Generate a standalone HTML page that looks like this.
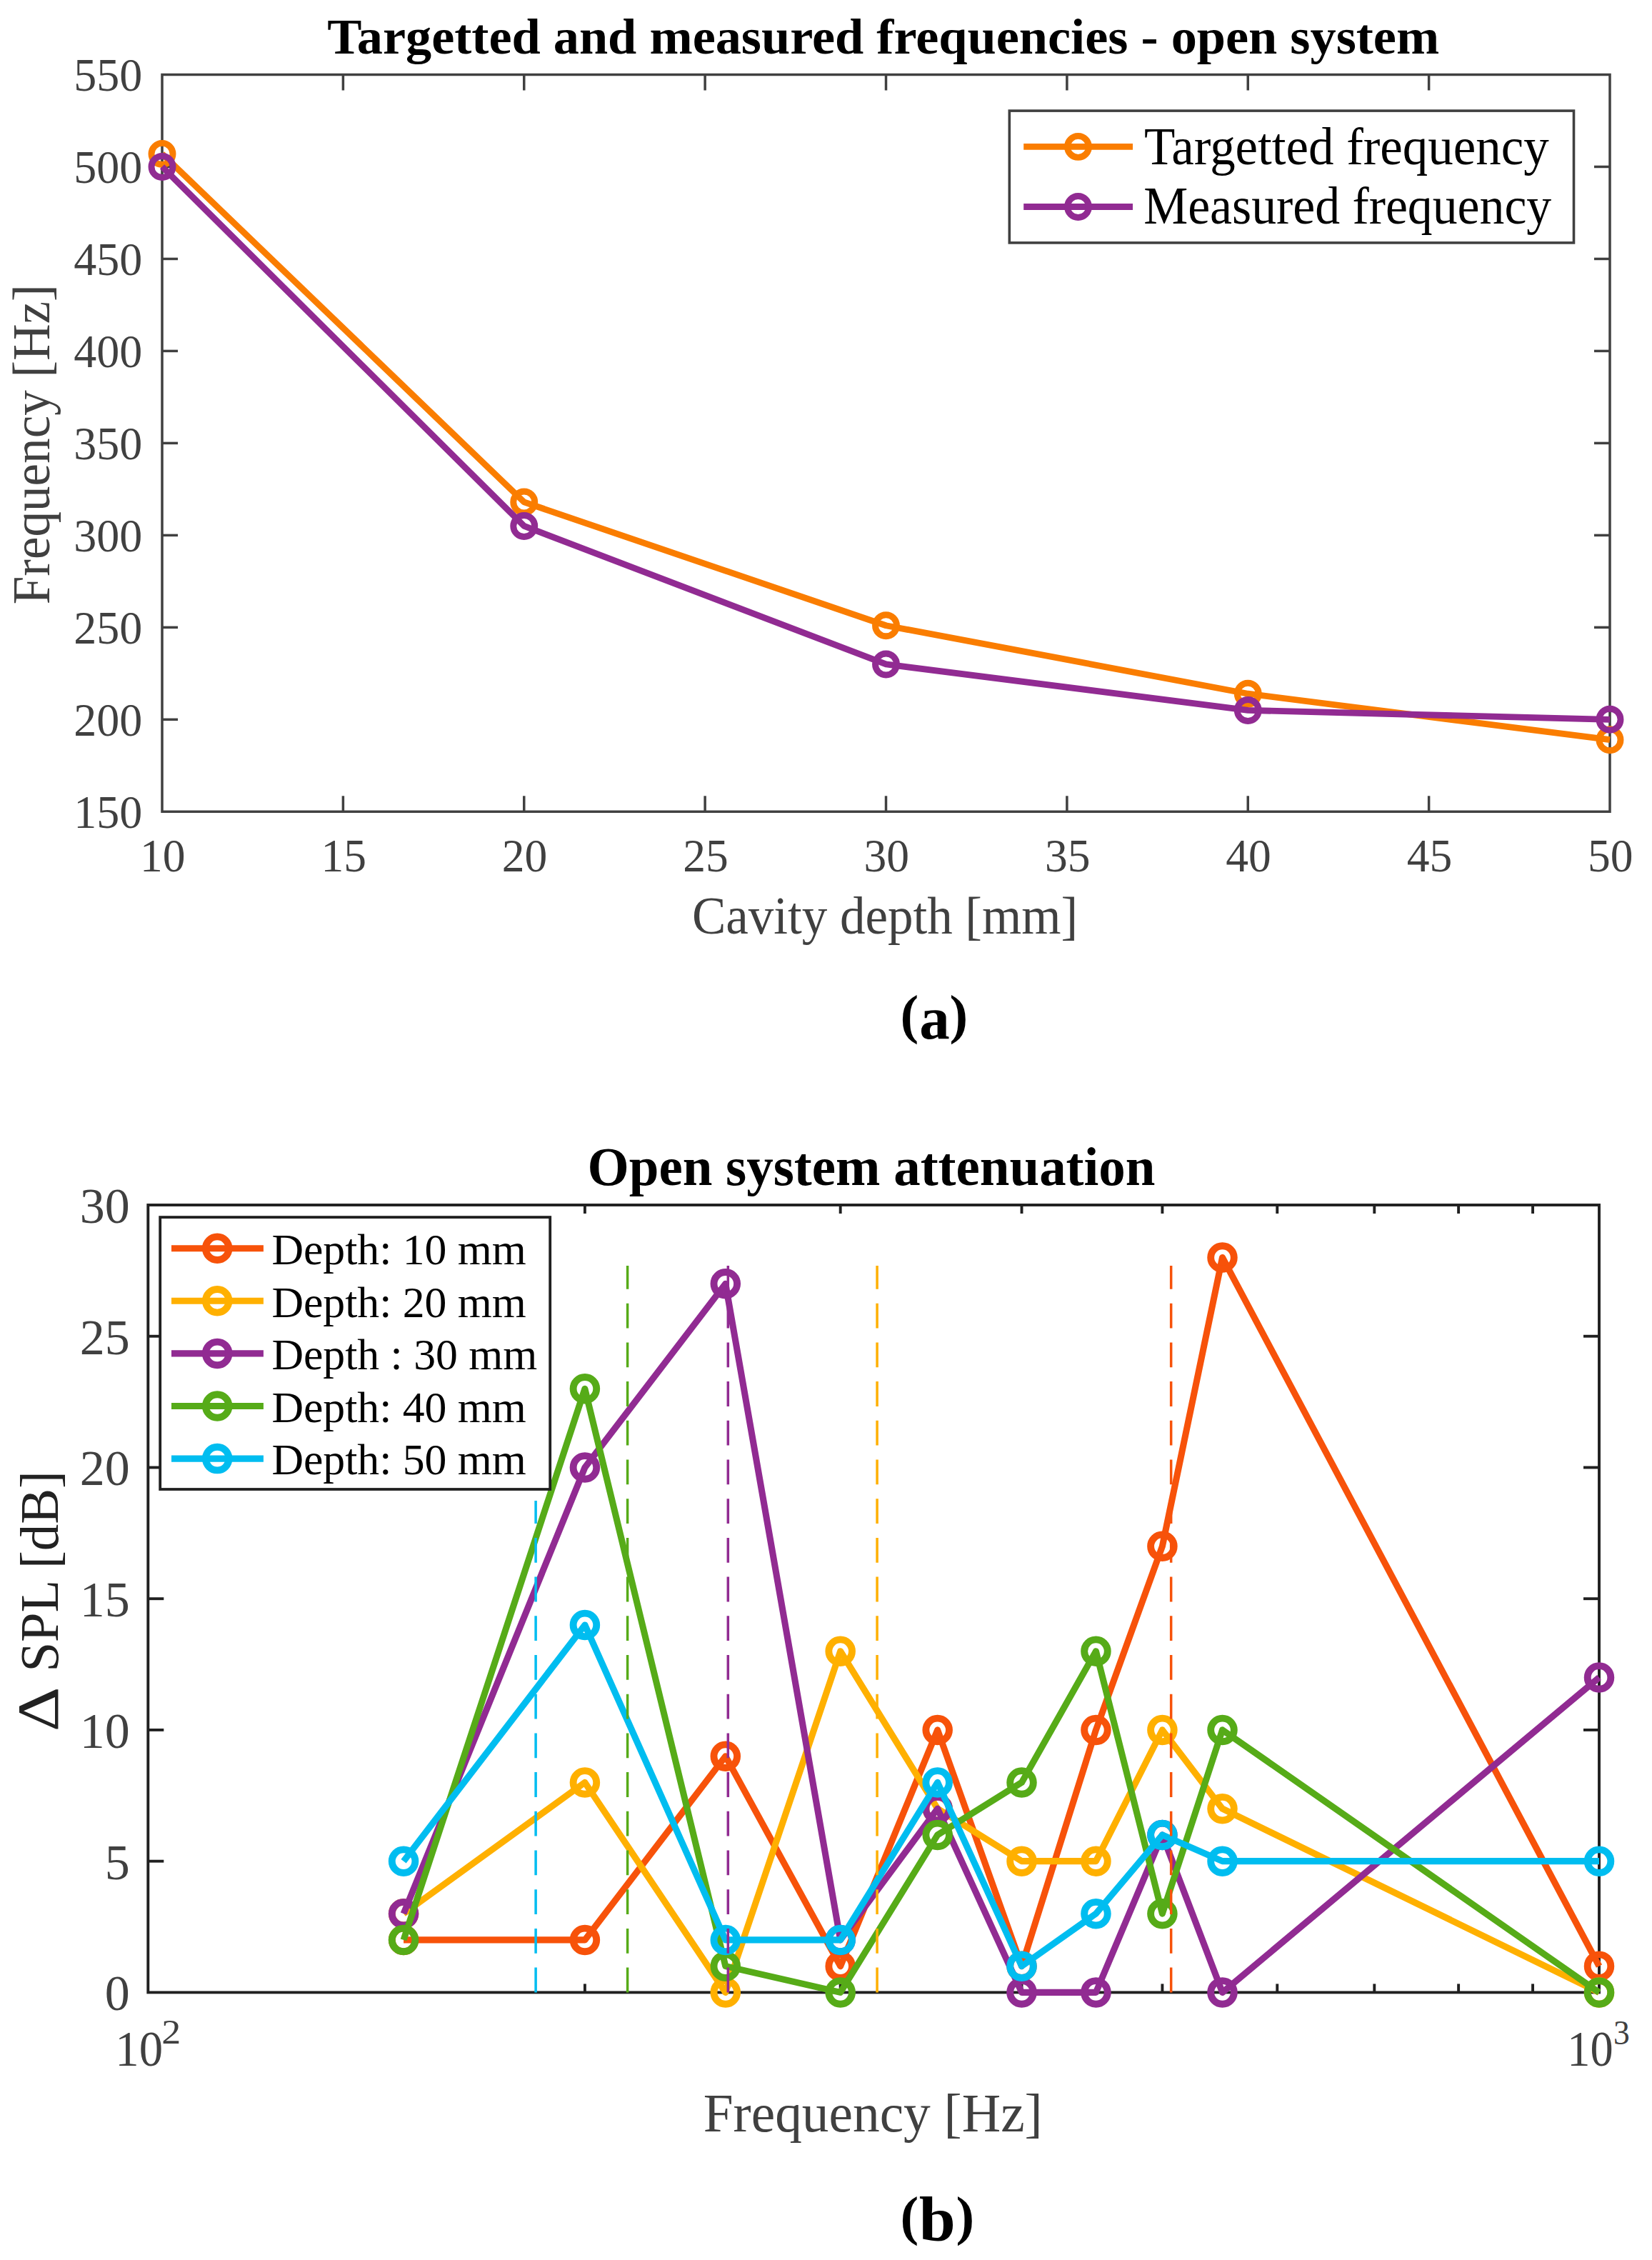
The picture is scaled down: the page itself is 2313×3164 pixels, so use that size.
<!DOCTYPE html>
<html lang="en">
<head>
<meta charset="utf-8">
<title>Targetted and measured frequencies - open system</title>
<style>
html,body{margin:0;padding:0;background:#fff;}
body{width:2313px;height:3164px;overflow:hidden;}
svg{display:block;}
svg text{font-family:"Liberation Serif", "DejaVu Serif", serif;white-space:pre;}
</style>
</head>
<body>
<svg width="2313" height="3164" viewBox="0 0 2313 3164">
<rect x="0" y="0" width="2313" height="3164" fill="#ffffff"/>
<g id="chart-a">
<text x="227.8" y="1220" font-size="66.5" fill="#404040" text-anchor="middle" font-weight="normal" textLength="63.5" lengthAdjust="spacingAndGlyphs">10</text>
<line x1="480.38" y1="1136.3" x2="480.38" y2="1114.3" stroke="#404040" stroke-width="3.5"/>
<line x1="480.38" y1="104.5" x2="480.38" y2="126.5" stroke="#404040" stroke-width="3.5"/>
<text x="481.18" y="1220" font-size="66.5" fill="#404040" text-anchor="middle" font-weight="normal" textLength="63.5" lengthAdjust="spacingAndGlyphs">15</text>
<line x1="733.75" y1="1136.3" x2="733.75" y2="1114.3" stroke="#404040" stroke-width="3.5"/>
<line x1="733.75" y1="104.5" x2="733.75" y2="126.5" stroke="#404040" stroke-width="3.5"/>
<text x="734.55" y="1220" font-size="66.5" fill="#404040" text-anchor="middle" font-weight="normal" textLength="63.5" lengthAdjust="spacingAndGlyphs">20</text>
<line x1="987.12" y1="1136.3" x2="987.12" y2="1114.3" stroke="#404040" stroke-width="3.5"/>
<line x1="987.12" y1="104.5" x2="987.12" y2="126.5" stroke="#404040" stroke-width="3.5"/>
<text x="987.92" y="1220" font-size="66.5" fill="#404040" text-anchor="middle" font-weight="normal" textLength="63.5" lengthAdjust="spacingAndGlyphs">25</text>
<line x1="1240.5" y1="1136.3" x2="1240.5" y2="1114.3" stroke="#404040" stroke-width="3.5"/>
<line x1="1240.5" y1="104.5" x2="1240.5" y2="126.5" stroke="#404040" stroke-width="3.5"/>
<text x="1241.3" y="1220" font-size="66.5" fill="#404040" text-anchor="middle" font-weight="normal" textLength="63.5" lengthAdjust="spacingAndGlyphs">30</text>
<line x1="1493.88" y1="1136.3" x2="1493.88" y2="1114.3" stroke="#404040" stroke-width="3.5"/>
<line x1="1493.88" y1="104.5" x2="1493.88" y2="126.5" stroke="#404040" stroke-width="3.5"/>
<text x="1494.67" y="1220" font-size="66.5" fill="#404040" text-anchor="middle" font-weight="normal" textLength="63.5" lengthAdjust="spacingAndGlyphs">35</text>
<line x1="1747.25" y1="1136.3" x2="1747.25" y2="1114.3" stroke="#404040" stroke-width="3.5"/>
<line x1="1747.25" y1="104.5" x2="1747.25" y2="126.5" stroke="#404040" stroke-width="3.5"/>
<text x="1748.05" y="1220" font-size="66.5" fill="#404040" text-anchor="middle" font-weight="normal" textLength="63.5" lengthAdjust="spacingAndGlyphs">40</text>
<line x1="2000.62" y1="1136.3" x2="2000.62" y2="1114.3" stroke="#404040" stroke-width="3.5"/>
<line x1="2000.62" y1="104.5" x2="2000.62" y2="126.5" stroke="#404040" stroke-width="3.5"/>
<text x="2001.42" y="1220" font-size="66.5" fill="#404040" text-anchor="middle" font-weight="normal" textLength="63.5" lengthAdjust="spacingAndGlyphs">45</text>
<text x="2254.8" y="1220" font-size="66.5" fill="#404040" text-anchor="middle" font-weight="normal" textLength="63.5" lengthAdjust="spacingAndGlyphs">50</text>
<text x="199.2" y="1158.9" font-size="66" fill="#404040" text-anchor="end" font-weight="normal" textLength="96" lengthAdjust="spacingAndGlyphs">150</text>
<line x1="227" y1="1007.32" x2="249" y2="1007.32" stroke="#404040" stroke-width="3.5"/>
<line x1="2254" y1="1007.32" x2="2232" y2="1007.32" stroke="#404040" stroke-width="3.5"/>
<text x="199.2" y="1029.92" font-size="66" fill="#404040" text-anchor="end" font-weight="normal" textLength="96" lengthAdjust="spacingAndGlyphs">200</text>
<line x1="227" y1="878.35" x2="249" y2="878.35" stroke="#404040" stroke-width="3.5"/>
<line x1="2254" y1="878.35" x2="2232" y2="878.35" stroke="#404040" stroke-width="3.5"/>
<text x="199.2" y="900.95" font-size="66" fill="#404040" text-anchor="end" font-weight="normal" textLength="96" lengthAdjust="spacingAndGlyphs">250</text>
<line x1="227" y1="749.38" x2="249" y2="749.38" stroke="#404040" stroke-width="3.5"/>
<line x1="2254" y1="749.38" x2="2232" y2="749.38" stroke="#404040" stroke-width="3.5"/>
<text x="199.2" y="771.98" font-size="66" fill="#404040" text-anchor="end" font-weight="normal" textLength="96" lengthAdjust="spacingAndGlyphs">300</text>
<line x1="227" y1="620.4" x2="249" y2="620.4" stroke="#404040" stroke-width="3.5"/>
<line x1="2254" y1="620.4" x2="2232" y2="620.4" stroke="#404040" stroke-width="3.5"/>
<text x="199.2" y="643" font-size="66" fill="#404040" text-anchor="end" font-weight="normal" textLength="96" lengthAdjust="spacingAndGlyphs">350</text>
<line x1="227" y1="491.42" x2="249" y2="491.42" stroke="#404040" stroke-width="3.5"/>
<line x1="2254" y1="491.42" x2="2232" y2="491.42" stroke="#404040" stroke-width="3.5"/>
<text x="199.2" y="514.02" font-size="66" fill="#404040" text-anchor="end" font-weight="normal" textLength="96" lengthAdjust="spacingAndGlyphs">400</text>
<line x1="227" y1="362.45" x2="249" y2="362.45" stroke="#404040" stroke-width="3.5"/>
<line x1="2254" y1="362.45" x2="2232" y2="362.45" stroke="#404040" stroke-width="3.5"/>
<text x="199.2" y="385.05" font-size="66" fill="#404040" text-anchor="end" font-weight="normal" textLength="96" lengthAdjust="spacingAndGlyphs">450</text>
<line x1="227" y1="233.48" x2="249" y2="233.48" stroke="#404040" stroke-width="3.5"/>
<line x1="2254" y1="233.48" x2="2232" y2="233.48" stroke="#404040" stroke-width="3.5"/>
<text x="199.2" y="256.08" font-size="66" fill="#404040" text-anchor="end" font-weight="normal" textLength="96" lengthAdjust="spacingAndGlyphs">500</text>
<text x="199.2" y="127.1" font-size="66" fill="#404040" text-anchor="end" font-weight="normal" textLength="96" lengthAdjust="spacingAndGlyphs">550</text>
<rect x="227" y="104.5" width="2027" height="1031.8" fill="none" stroke="#404040" stroke-width="3.5"/>
<polyline points="227,215.42 733.75,702.94 1240.5,875.77 1747.25,971.21 2254,1035.7" fill="none" stroke="#FA7D00" stroke-width="8.8" stroke-linejoin="round"/>
<circle cx="227" cy="215.42" r="15.0" fill="none" stroke="#FA7D00" stroke-width="8.9"/>
<circle cx="733.75" cy="702.94" r="15.0" fill="none" stroke="#FA7D00" stroke-width="8.9"/>
<circle cx="1240.5" cy="875.77" r="15.0" fill="none" stroke="#FA7D00" stroke-width="8.9"/>
<circle cx="1747.25" cy="971.21" r="15.0" fill="none" stroke="#FA7D00" stroke-width="8.9"/>
<circle cx="2254" cy="1035.7" r="15.0" fill="none" stroke="#FA7D00" stroke-width="8.9"/>
<polyline points="227,233.48 733.75,736.48 1240.5,929.94 1747.25,994.43 2254,1007.32" fill="none" stroke="#912B92" stroke-width="8.8" stroke-linejoin="round"/>
<circle cx="227" cy="233.48" r="15.0" fill="none" stroke="#912B92" stroke-width="8.9"/>
<circle cx="733.75" cy="736.48" r="15.0" fill="none" stroke="#912B92" stroke-width="8.9"/>
<circle cx="1240.5" cy="929.94" r="15.0" fill="none" stroke="#912B92" stroke-width="8.9"/>
<circle cx="1747.25" cy="994.43" r="15.0" fill="none" stroke="#912B92" stroke-width="8.9"/>
<circle cx="2254" cy="1007.32" r="15.0" fill="none" stroke="#912B92" stroke-width="8.9"/>
<text x="1236.7" y="75.2" font-size="70.5" fill="#000" text-anchor="middle" font-weight="bold" textLength="1557" lengthAdjust="spacingAndGlyphs">Targetted and measured frequencies - open system</text>
<text x="1239" y="1306.9" font-size="73" fill="#404040" text-anchor="middle" font-weight="normal" textLength="540.2" lengthAdjust="spacingAndGlyphs">Cavity depth [mm]</text>
<text transform="translate(69.4 622.3) rotate(-90)" font-size="73" fill="#404040" text-anchor="middle" textLength="447.9" lengthAdjust="spacingAndGlyphs">Frequency [Hz]</text>
<rect x="1413.3" y="155.1" width="790.2" height="184.8" fill="#fff" stroke="#404040" stroke-width="3.6"/>
<line x1="1433.2" y1="205.4" x2="1586" y2="205.4" stroke="#FA7D00" stroke-width="8.8"/>
<circle cx="1509.5" cy="205.4" r="15.0" fill="none" stroke="#FA7D00" stroke-width="8.9"/>
<text x="1602" y="229.6" font-size="73.5" fill="#000" text-anchor="start" font-weight="normal" textLength="566.6" lengthAdjust="spacingAndGlyphs">Targetted frequency</text>
<line x1="1433.2" y1="289.5" x2="1586" y2="289.5" stroke="#912B92" stroke-width="8.8"/>
<circle cx="1509.5" cy="289.5" r="15.0" fill="none" stroke="#912B92" stroke-width="8.9"/>
<text x="1601.2" y="313.1" font-size="73.5" fill="#000" text-anchor="start" font-weight="normal" textLength="571.0" lengthAdjust="spacingAndGlyphs">Measured frequency</text>
<text font-weight="bold" fill="#000"><tspan x="1260.5" y="1446.4" font-size="77">(</tspan><tspan x="1287.2" y="1454.1" font-size="85">a</tspan><tspan x="1329.4" y="1446.4" font-size="77">)</tspan></text>
</g>
<g id="chart-b">
<text x="181.8" y="2814.3" font-size="70" fill="#404040" text-anchor="end" font-weight="normal">0</text>
<line x1="207.3" y1="2605.67" x2="229.3" y2="2605.67" stroke="#202020" stroke-width="3.9"/>
<line x1="2239" y1="2605.67" x2="2217" y2="2605.67" stroke="#202020" stroke-width="3.9"/>
<text x="181.8" y="2630.57" font-size="70" fill="#404040" text-anchor="end" font-weight="normal">5</text>
<line x1="207.3" y1="2421.93" x2="229.3" y2="2421.93" stroke="#202020" stroke-width="3.9"/>
<line x1="2239" y1="2421.93" x2="2217" y2="2421.93" stroke="#202020" stroke-width="3.9"/>
<text x="181.8" y="2446.83" font-size="70" fill="#404040" text-anchor="end" font-weight="normal">10</text>
<line x1="207.3" y1="2238.2" x2="229.3" y2="2238.2" stroke="#202020" stroke-width="3.9"/>
<line x1="2239" y1="2238.2" x2="2217" y2="2238.2" stroke="#202020" stroke-width="3.9"/>
<text x="181.8" y="2263.1" font-size="70" fill="#404040" text-anchor="end" font-weight="normal">15</text>
<line x1="207.3" y1="2054.47" x2="229.3" y2="2054.47" stroke="#202020" stroke-width="3.9"/>
<line x1="2239" y1="2054.47" x2="2217" y2="2054.47" stroke="#202020" stroke-width="3.9"/>
<text x="181.8" y="2079.37" font-size="70" fill="#404040" text-anchor="end" font-weight="normal">20</text>
<line x1="207.3" y1="1870.73" x2="229.3" y2="1870.73" stroke="#202020" stroke-width="3.9"/>
<line x1="2239" y1="1870.73" x2="2217" y2="1870.73" stroke="#202020" stroke-width="3.9"/>
<text x="181.8" y="1895.63" font-size="70" fill="#404040" text-anchor="end" font-weight="normal">25</text>
<text x="181.8" y="1711.9" font-size="70" fill="#404040" text-anchor="end" font-weight="normal">30</text>
<line x1="818.9" y1="2789.4" x2="818.9" y2="2777.4" stroke="#202020" stroke-width="3.9"/>
<line x1="818.9" y1="1687" x2="818.9" y2="1699" stroke="#202020" stroke-width="3.9"/>
<line x1="1176.67" y1="2789.4" x2="1176.67" y2="2777.4" stroke="#202020" stroke-width="3.9"/>
<line x1="1176.67" y1="1687" x2="1176.67" y2="1699" stroke="#202020" stroke-width="3.9"/>
<line x1="1430.51" y1="2789.4" x2="1430.51" y2="2777.4" stroke="#202020" stroke-width="3.9"/>
<line x1="1430.51" y1="1687" x2="1430.51" y2="1699" stroke="#202020" stroke-width="3.9"/>
<line x1="1627.4" y1="2789.4" x2="1627.4" y2="2777.4" stroke="#202020" stroke-width="3.9"/>
<line x1="1627.4" y1="1687" x2="1627.4" y2="1699" stroke="#202020" stroke-width="3.9"/>
<line x1="1788.27" y1="2789.4" x2="1788.27" y2="2777.4" stroke="#202020" stroke-width="3.9"/>
<line x1="1788.27" y1="1687" x2="1788.27" y2="1699" stroke="#202020" stroke-width="3.9"/>
<line x1="1924.29" y1="2789.4" x2="1924.29" y2="2777.4" stroke="#202020" stroke-width="3.9"/>
<line x1="1924.29" y1="1687" x2="1924.29" y2="1699" stroke="#202020" stroke-width="3.9"/>
<line x1="2042.11" y1="2789.4" x2="2042.11" y2="2777.4" stroke="#202020" stroke-width="3.9"/>
<line x1="2042.11" y1="1687" x2="2042.11" y2="1699" stroke="#202020" stroke-width="3.9"/>
<line x1="2146.03" y1="2789.4" x2="2146.03" y2="2777.4" stroke="#202020" stroke-width="3.9"/>
<line x1="2146.03" y1="1687" x2="2146.03" y2="1699" stroke="#202020" stroke-width="3.9"/>
<rect x="207.3" y="1687" width="2031.7" height="1102.4" fill="none" stroke="#202020" stroke-width="3.9"/>
<text x="161.3" y="2892" font-size="70" fill="#404040" textLength="66.8" lengthAdjust="spacingAndGlyphs">10</text>
<text x="226.2" y="2861" font-size="49" fill="#404040" textLength="27" lengthAdjust="spacingAndGlyphs">2</text>
<text x="2194.3" y="2892" font-size="70" fill="#404040" textLength="64.4" lengthAdjust="spacingAndGlyphs">10</text>
<text x="2259.1" y="2862" font-size="49" fill="#404040" textLength="22.8" lengthAdjust="spacingAndGlyphs">3</text>
<polyline points="565.06,2715.91 818.9,2715.91 1015.79,2458.68 1176.67,2752.65 1312.68,2421.93 1430.51,2752.65 1534.43,2421.93 1627.4,2164.71 1711.49,1760.49 2239,2752.65" fill="none" stroke="#F7520A" stroke-width="9.1" stroke-linejoin="round"/>
<circle cx="565.06" cy="2715.91" r="16.3" fill="none" stroke="#F7520A" stroke-width="9.9"/>
<circle cx="818.9" cy="2715.91" r="16.3" fill="none" stroke="#F7520A" stroke-width="9.9"/>
<circle cx="1015.79" cy="2458.68" r="16.3" fill="none" stroke="#F7520A" stroke-width="9.9"/>
<circle cx="1176.67" cy="2752.65" r="16.3" fill="none" stroke="#F7520A" stroke-width="9.9"/>
<circle cx="1312.68" cy="2421.93" r="16.3" fill="none" stroke="#F7520A" stroke-width="9.9"/>
<circle cx="1430.51" cy="2752.65" r="16.3" fill="none" stroke="#F7520A" stroke-width="9.9"/>
<circle cx="1534.43" cy="2421.93" r="16.3" fill="none" stroke="#F7520A" stroke-width="9.9"/>
<circle cx="1627.4" cy="2164.71" r="16.3" fill="none" stroke="#F7520A" stroke-width="9.9"/>
<circle cx="1711.49" cy="1760.49" r="16.3" fill="none" stroke="#F7520A" stroke-width="9.9"/>
<circle cx="2239" cy="2752.65" r="16.3" fill="none" stroke="#F7520A" stroke-width="9.9"/>
<polyline points="565.06,2679.16 818.9,2495.43 1015.79,2789.4 1176.67,2311.69 1312.68,2532.17 1430.51,2605.67 1534.43,2605.67 1627.4,2421.93 1711.49,2532.17 2239,2789.4" fill="none" stroke="#FFB000" stroke-width="9.1" stroke-linejoin="round"/>
<circle cx="565.06" cy="2679.16" r="16.3" fill="none" stroke="#FFB000" stroke-width="9.9"/>
<circle cx="818.9" cy="2495.43" r="16.3" fill="none" stroke="#FFB000" stroke-width="9.9"/>
<circle cx="1015.79" cy="2789.4" r="16.3" fill="none" stroke="#FFB000" stroke-width="9.9"/>
<circle cx="1176.67" cy="2311.69" r="16.3" fill="none" stroke="#FFB000" stroke-width="9.9"/>
<circle cx="1312.68" cy="2532.17" r="16.3" fill="none" stroke="#FFB000" stroke-width="9.9"/>
<circle cx="1430.51" cy="2605.67" r="16.3" fill="none" stroke="#FFB000" stroke-width="9.9"/>
<circle cx="1534.43" cy="2605.67" r="16.3" fill="none" stroke="#FFB000" stroke-width="9.9"/>
<circle cx="1627.4" cy="2421.93" r="16.3" fill="none" stroke="#FFB000" stroke-width="9.9"/>
<circle cx="1711.49" cy="2532.17" r="16.3" fill="none" stroke="#FFB000" stroke-width="9.9"/>
<circle cx="2239" cy="2789.4" r="16.3" fill="none" stroke="#FFB000" stroke-width="9.9"/>
<polyline points="565.06,2679.16 818.9,2054.47 1015.79,1797.24 1176.67,2715.91 1312.68,2532.17 1430.51,2789.4 1534.43,2789.4 1627.4,2568.92 1711.49,2789.4 2239,2348.44" fill="none" stroke="#912B92" stroke-width="9.1" stroke-linejoin="round"/>
<circle cx="565.06" cy="2679.16" r="16.3" fill="none" stroke="#912B92" stroke-width="9.9"/>
<circle cx="818.9" cy="2054.47" r="16.3" fill="none" stroke="#912B92" stroke-width="9.9"/>
<circle cx="1015.79" cy="1797.24" r="16.3" fill="none" stroke="#912B92" stroke-width="9.9"/>
<circle cx="1176.67" cy="2715.91" r="16.3" fill="none" stroke="#912B92" stroke-width="9.9"/>
<circle cx="1312.68" cy="2532.17" r="16.3" fill="none" stroke="#912B92" stroke-width="9.9"/>
<circle cx="1430.51" cy="2789.4" r="16.3" fill="none" stroke="#912B92" stroke-width="9.9"/>
<circle cx="1534.43" cy="2789.4" r="16.3" fill="none" stroke="#912B92" stroke-width="9.9"/>
<circle cx="1627.4" cy="2568.92" r="16.3" fill="none" stroke="#912B92" stroke-width="9.9"/>
<circle cx="1711.49" cy="2789.4" r="16.3" fill="none" stroke="#912B92" stroke-width="9.9"/>
<circle cx="2239" cy="2348.44" r="16.3" fill="none" stroke="#912B92" stroke-width="9.9"/>
<polyline points="565.06,2715.91 818.9,1944.23 1015.79,2752.65 1176.67,2789.4 1312.68,2568.92 1430.51,2495.43 1534.43,2311.69 1627.4,2679.16 1711.49,2421.93 2239,2789.4" fill="none" stroke="#56AB18" stroke-width="9.1" stroke-linejoin="round"/>
<circle cx="565.06" cy="2715.91" r="16.3" fill="none" stroke="#56AB18" stroke-width="9.9"/>
<circle cx="818.9" cy="1944.23" r="16.3" fill="none" stroke="#56AB18" stroke-width="9.9"/>
<circle cx="1015.79" cy="2752.65" r="16.3" fill="none" stroke="#56AB18" stroke-width="9.9"/>
<circle cx="1176.67" cy="2789.4" r="16.3" fill="none" stroke="#56AB18" stroke-width="9.9"/>
<circle cx="1312.68" cy="2568.92" r="16.3" fill="none" stroke="#56AB18" stroke-width="9.9"/>
<circle cx="1430.51" cy="2495.43" r="16.3" fill="none" stroke="#56AB18" stroke-width="9.9"/>
<circle cx="1534.43" cy="2311.69" r="16.3" fill="none" stroke="#56AB18" stroke-width="9.9"/>
<circle cx="1627.4" cy="2679.16" r="16.3" fill="none" stroke="#56AB18" stroke-width="9.9"/>
<circle cx="1711.49" cy="2421.93" r="16.3" fill="none" stroke="#56AB18" stroke-width="9.9"/>
<circle cx="2239" cy="2789.4" r="16.3" fill="none" stroke="#56AB18" stroke-width="9.9"/>
<polyline points="565.06,2605.67 818.9,2274.95 1015.79,2715.91 1176.67,2715.91 1312.68,2495.43 1430.51,2752.65 1534.43,2679.16 1627.4,2568.92 1711.49,2605.67 2239,2605.67" fill="none" stroke="#00BDF0" stroke-width="9.1" stroke-linejoin="round"/>
<circle cx="565.06" cy="2605.67" r="16.3" fill="none" stroke="#00BDF0" stroke-width="9.9"/>
<circle cx="818.9" cy="2274.95" r="16.3" fill="none" stroke="#00BDF0" stroke-width="9.9"/>
<circle cx="1015.79" cy="2715.91" r="16.3" fill="none" stroke="#00BDF0" stroke-width="9.9"/>
<circle cx="1176.67" cy="2715.91" r="16.3" fill="none" stroke="#00BDF0" stroke-width="9.9"/>
<circle cx="1312.68" cy="2495.43" r="16.3" fill="none" stroke="#00BDF0" stroke-width="9.9"/>
<circle cx="1430.51" cy="2752.65" r="16.3" fill="none" stroke="#00BDF0" stroke-width="9.9"/>
<circle cx="1534.43" cy="2679.16" r="16.3" fill="none" stroke="#00BDF0" stroke-width="9.9"/>
<circle cx="1627.4" cy="2568.92" r="16.3" fill="none" stroke="#00BDF0" stroke-width="9.9"/>
<circle cx="1711.49" cy="2605.67" r="16.3" fill="none" stroke="#00BDF0" stroke-width="9.9"/>
<circle cx="2239" cy="2605.67" r="16.3" fill="none" stroke="#00BDF0" stroke-width="9.9"/>
<path d="M1639.66 2789.4 V1772" fill="none" stroke="#F7520A" stroke-width="3.5" stroke-dasharray="34.8 19.9"/>
<path d="M1228.08 2789.4 V1772" fill="none" stroke="#FFB000" stroke-width="3.5" stroke-dasharray="34.8 19.9"/>
<path d="M1019.32 2789.4 V1772" fill="none" stroke="#912B92" stroke-width="3.5" stroke-dasharray="34.8 19.9"/>
<path d="M878.6 2789.4 V1772" fill="none" stroke="#56AB18" stroke-width="3.5" stroke-dasharray="34.8 19.9"/>
<path d="M750.11 2789.4 V2101" fill="none" stroke="#00BDF0" stroke-width="3.5" stroke-dasharray="34.8 19.9"/>
<text x="1220" y="1659.2" font-size="77" fill="#000" text-anchor="middle" font-weight="bold" textLength="795" lengthAdjust="spacingAndGlyphs">Open system attenuation</text>
<text x="1222.2" y="2984.4" font-size="76" fill="#404040" text-anchor="middle" font-weight="normal" textLength="475" lengthAdjust="spacingAndGlyphs">Frequency [Hz]</text>
<text transform="translate(80.7 2424.3) rotate(-90)" font-size="82" fill="#222" text-anchor="start" textLength="62.8" lengthAdjust="spacingAndGlyphs">&#916;</text>
<text transform="translate(80.7 2340.6) rotate(-90)" font-size="76" fill="#222" text-anchor="start" textLength="281.5" lengthAdjust="spacingAndGlyphs">SPL [dB]</text>
<rect x="224.2" y="1704.1" width="546" height="380.9" fill="#fff" stroke="#202020" stroke-width="3.8"/>
<line x1="240" y1="1747.7" x2="368.9" y2="1747.7" stroke="#F7520A" stroke-width="9.1"/>
<circle cx="304.2" cy="1747.7" r="16.3" fill="none" stroke="#F7520A" stroke-width="9.9"/>
<text x="380.4" y="1770.2" font-size="61.7" fill="#000" text-anchor="start" font-weight="normal">Depth: 10 mm</text>
<line x1="240" y1="1821.3" x2="368.9" y2="1821.3" stroke="#FFB000" stroke-width="9.1"/>
<circle cx="304.2" cy="1821.3" r="16.3" fill="none" stroke="#FFB000" stroke-width="9.9"/>
<text x="380.4" y="1843.75" font-size="61.7" fill="#000" text-anchor="start" font-weight="normal">Depth: 20 mm</text>
<line x1="240" y1="1894.9" x2="368.9" y2="1894.9" stroke="#912B92" stroke-width="9.1"/>
<circle cx="304.2" cy="1894.9" r="16.3" fill="none" stroke="#912B92" stroke-width="9.9"/>
<text x="380.4" y="1917.3" font-size="61.7" fill="#000" text-anchor="start" font-weight="normal">Depth : 30 mm</text>
<line x1="240" y1="1968.5" x2="368.9" y2="1968.5" stroke="#56AB18" stroke-width="9.1"/>
<circle cx="304.2" cy="1968.5" r="16.3" fill="none" stroke="#56AB18" stroke-width="9.9"/>
<text x="380.4" y="1990.85" font-size="61.7" fill="#000" text-anchor="start" font-weight="normal">Depth: 40 mm</text>
<line x1="240" y1="2042.1" x2="368.9" y2="2042.1" stroke="#00BDF0" stroke-width="9.1"/>
<circle cx="304.2" cy="2042.1" r="16.3" fill="none" stroke="#00BDF0" stroke-width="9.9"/>
<text x="380.4" y="2064.4" font-size="61.7" fill="#000" text-anchor="start" font-weight="normal">Depth: 50 mm</text>
<text font-weight="bold" fill="#000"><tspan x="1260.5" y="3128.4" font-size="77">(</tspan><tspan x="1286.7" y="3137.0" font-size="89.5" textLength="51" lengthAdjust="spacingAndGlyphs">b</tspan><tspan x="1338.4" y="3128.4" font-size="77">)</tspan></text>
</g>
</svg>
</body>
</html>
